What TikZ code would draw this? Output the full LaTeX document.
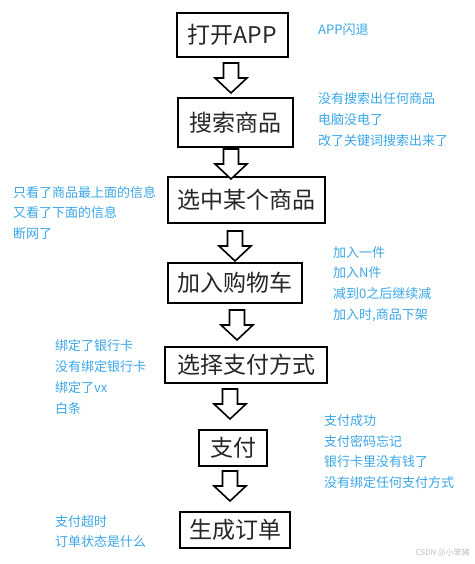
\documentclass[tikz,border=0pt]{standalone}
\usepackage{fontspec}
\newfontfamily\cjk{Noto Sans CJK SC}
\definecolor{noteblue}{HTML}{3AA6E6}
\begin{document}
\begin{tikzpicture}[x=1pt,y=-1pt,
  stepbox/.style={draw=black,line width=1.6pt,inner sep=0pt,font=\cjk\fontsize{23}{26}\selectfont,text=black!85},
  note/.style={anchor=west,inner sep=0pt,align=left,text=noteblue,font=\cjk\fontsize{13}{20.8}\selectfont},
  arrowline/.style={draw=black,line width=1.6pt,fill=white,line join=miter},
  downarr/.pic={\draw[arrowline] (-7.5,0) -- (7.5,0) -- (7.5,15) -- (16,15) -- (0,30) -- (-16,15) -- (-7.5,15) -- cycle;}]
\useasboundingbox (0,0) rectangle (474,564);
% boxes
\node[stepbox,minimum width=111pt,minimum height=44pt] (b1) at (232.5,35) {打开APP};
\node[stepbox,minimum width=115pt,minimum height=49pt] (b2) at (235.5,122.5) {搜索商品};
\node[stepbox,minimum width=157pt,minimum height=46pt] (b3) at (246.5,200) {选中某个商品};
\node[stepbox,minimum width=134pt,minimum height=40pt] (b4) at (235,283) {加入购物车};
\node[stepbox,minimum width=162pt,minimum height=36pt] (b5) at (246,365) {选择支付方式};
\node[stepbox,minimum width=68pt,minimum height=36pt] (b6) at (233,448) {支付};
\node[stepbox,minimum width=110pt,minimum height=36pt] (b7) at (235,530) {生成订单};
% arrows
\pic at (231,63) {downarr};
\pic at (231,149) {downarr};
\pic at (235,231) {downarr};
\pic at (237,310) {downarr};
\pic at (230,389) {downarr};
\pic at (230,471) {downarr};
% notes
\node[note] (n1) at (318,30) {APP闪退};
\node[note] (n2) at (318,119.5) {没有搜索出任何商品\\电脑没电了\\改了关键词搜索出来了};
\node[note] (n3) at (13,213) {只看了商品最上面的信息\\又看了下面的信息\\断网了};
\node[note] (n4) at (333,284) {加入一件\\加入N件\\减到0之后继续减\\加入时,商品下架};
\node[note] (n5) at (55,377) {绑定了银行卡\\没有绑定银行卡\\绑定了vx\\白条};
\node[note] (n6) at (324,451.5) {支付成功\\支付密码忘记\\银行卡里没有钱了\\没有绑定任何支付方式};
\node[note] (n7) at (55,531.5) {支付超时\\订单状态是什么};
\node[anchor=east,inner sep=0pt,text=black!25,font=\cjk\fontsize{8}{9}\selectfont] (wm) at (470,553) {CSDN @小笨猪};
\end{tikzpicture}
\end{document}
